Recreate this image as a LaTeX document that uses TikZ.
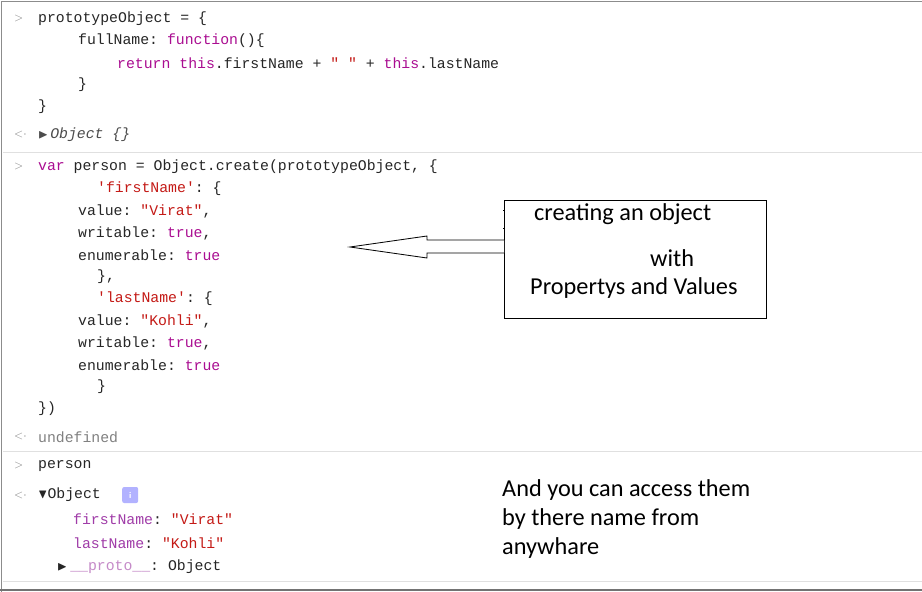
\documentclass[tikz,border=0pt]{standalone}
\usepackage{amssymb}
\usepackage{fontspec}
\setmonofont{Liberation Mono}
\newfontfamily\anno{Carlito}
\begin{document}
\begin{tikzpicture}[x=1pt,y=-1pt,
  code/.style={anchor=west,inner sep=0pt,font=\ttfamily\fontsize{14.8}{15}\selectfont,text=black!85},
  prm/.style={anchor=west,inner sep=0pt,font=\sffamily\fontsize{12}{12}\selectfont,text=gray},
  ann/.style={anchor=west,inner sep=0pt,font=\anno\fontsize{24.3}{25}\selectfont},
  sep/.style={draw=black!12,line width=1pt}]
\useasboundingbox (0,0) rectangle (922,592);
\fill[white] (0,0) rectangle (922,592);
\draw[black!45,line width=1pt] (1,592) -- (1,1) -- (922,1);
\draw[black!55,line width=2pt] (0,590) -- (922,590);
\draw[sep] (3,152) -- (922,152);
\draw[sep] (3,451) -- (922,451);
\draw[sep] (3,581) -- (922,581);
\def\kw#1{\textcolor[HTML]{AA0D91}{#1}}
\def\st#1{\textcolor[HTML]{C41A16}{#1}}
\def\pr#1{\textcolor[HTML]{A03CA8}{#1}}
% prompts
\node[prm] (p1) at (14,19) {>};
\node[prm] (p2) at (14,135) {<$\cdot$};
\node[prm] (p3) at (14,167) {>};
\node[prm] (p4) at (14,437) {<$\cdot$};
\node[prm] (p5) at (14,466) {>};
\node[prm] (p6) at (14,495) {<$\cdot$};
% code
\node[code] (c1) at (38,19) {prototypeObject = \{};
\node[code] (c2) at (78,41) {fullName: \kw{function}()\{};
\node[code] (c3) at (117,63) {\kw{return} \kw{this}.firstName + \st{" "} + \kw{this}.lastName};
\node[code] (c4) at (78,85) {\}};
\node[code] (c5) at (38,107) {\}};
\node[code,text=black!70] (c6) at (38,135) {\fontsize{13}{13}\selectfont$\blacktriangleright$\hspace{2pt}\fontsize{14.8}{15}\selectfont\itshape Object \{\}};
\node[code] (d1) at (38,167) {\kw{var} person = Object.create(prototypeObject, \{};
\node[code] (d2) at (97,189) {\st{'firstName'}: \{};
\node[code] (d3) at (78,211) {value: \st{"Virat"},};
\node[code] (d4) at (78,233) {writable: \kw{true},};
\node[code] (d5) at (78,255) {enumerable: \kw{true}};
\node[code] (d6) at (97,277) {\},};
\node[code] (d7) at (97,299) {\st{'lastName'}: \{};
\node[code] (d8) at (78,321) {value: \st{"Kohli"},};
\node[code] (d9) at (78,343) {writable: \kw{true},};
\node[code] (d10) at (78,365) {enumerable: \kw{true}};
\node[code] (d11) at (97,387) {\}};
\node[code] (d12) at (38,409) {\})};
\node[code,text=gray] (u) at (38,437) {undefined};
\node[code] (e1) at (38,466) {person};
\node[code] (e2) at (38,495) {\fontsize{13}{13}\selectfont$\blacktriangledown$\fontsize{14.8}{15}\selectfont Object};
\node[anchor=west,inner sep=0pt,fill=blue!30,rounded corners=2pt,minimum width=16pt,minimum height=16pt,font=\sffamily\bfseries\small,text=white] (info) at (122,495) {i};
\node[code] (e3) at (73,519) {\pr{firstName}: \st{"Virat"}};
\node[code] (e4) at (73,543) {\pr{lastName}: \st{"Kohli"}};
\node[code] (e5) at (57,567) {\fontsize{13}{13}\selectfont$\blacktriangleright$\hspace{3pt}\fontsize{14.8}{15}\selectfont\textcolor[HTML]{C58AC8}{\_\_proto\_\_}: Object};
% annotation box
\draw[black,line width=0.8pt] (504,200) rectangle (766,318);
\node[ann] (t1) at (534,214) {creating an object};
\node[ann] (t2) at (650,258) {with};
\node[ann] (t3) at (530,288) {Propertys and Values};
\draw[black,line width=0.6pt] (503,210) -- (505,210) (503,228) -- (505,228);
\coordinate (tip) at (350,247);
\draw[black,line width=0.8pt,fill=white] (504,240) -- (427,240) -- (427,236) -- (tip) -- (427,258) -- (427,253) -- (504,253);
\node[ann] (a1) at (502,490) {And you can access them};
\node[ann] (a2) at (502,519) {by there name from};
\node[ann] (a3) at (502,548) {anywhare};
\end{tikzpicture}
\end{document}
